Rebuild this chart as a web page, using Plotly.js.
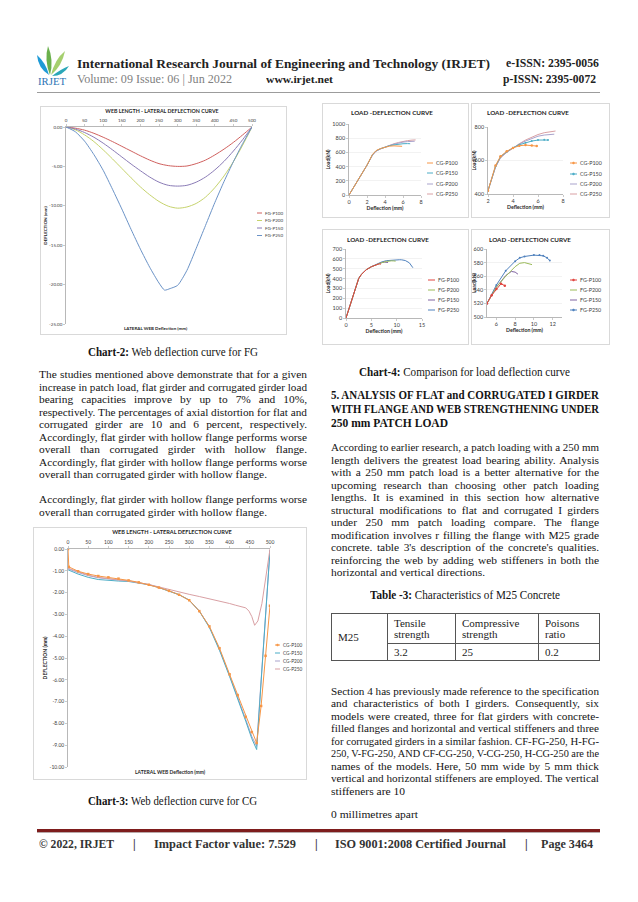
<!DOCTYPE html>
<html><head><meta charset="utf-8">
<script src="https://cdn.plot.ly/plotly-3.0.1.min.js"></script>
<style>
html,body{margin:0;padding:0;background:#fff;}
body{width:638px;height:902px;position:relative;overflow:hidden;font-family:"Liberation Serif",serif;color:#141414;}
.t{position:absolute;white-space:nowrap;transform-origin:0 50%;}
.frame{position:absolute;border:1px solid #d9d9d9;box-sizing:border-box;pointer-events:none;}
.plot{position:absolute;}
table.m25{position:absolute;left:331px;top:613px;width:268px;height:47px;border-collapse:collapse;font-family:"Liberation Serif",serif;font-size:11px;color:#1c1c1c;table-layout:fixed;}
table.m25 td{border:1px solid #555;padding:0 0 0 6px;line-height:10.5px;vertical-align:middle;}
</style>
</head><body>
<svg style="position:absolute;left:35px;top:44px" width="36" height="44" viewBox="0 0 36 44">
  <path d="M14 31 Q3 24 2 11 Q11 19 14 31Z" fill="#1e9ad6"/>
  <path d="M15 31 Q9 16 13 2 Q19 16 15 31Z" fill="#6ab04c"/>
  <path d="M16 31 Q20 15 30 7 Q27 22 16 31Z" fill="#a5cf6e"/>
  <path d="M17 32 Q26 25 34 22 Q28 32 17 32Z" fill="#2aa7b8"/>
  <text x="3" y="41" font-family="Liberation Serif" font-size="9.5" fill="#2a74b5" textLength="28" lengthAdjust="spacingAndGlyphs">IRJET</text>
</svg>
<div style="position:absolute;left:37px;top:92px;width:563px;height:1px;background:#9c9c9c"></div>
<div style="position:absolute;left:37px;top:829px;width:563px;height:3px;background:#7e1d1d"></div>
<div style="position:absolute;left:37px;top:832px;width:563px;height:1px;background:#b9a9a9"></div>

<table class="m25">
  <colgroup><col style="width:56px"><col style="width:68px"><col style="width:83px"><col style="width:61px"></colgroup>
  <tr style="height:30px"><td rowspan="2">M25</td><td>Tensile<br>strength</td><td>Compressive<br>strength</td><td>Poisons<br>ratio</td></tr>
  <tr style="height:17px"><td>3.2</td><td>25</td><td>0.2</td></tr>
</table>

<script>
// ================= DATA =================
// Chart-2: web deflection for flat girder (FG)
const webX = [0,25,50,75,100,125,150,175,200,225,250,275,300,325,350,375,400,425,450,475,500];
const fgP100Web = [0,-0.15,-0.4,-0.8,-1.3,-1.85,-2.45,-3.05,-3.65,-4.2,-4.65,-4.9,-5.0,-4.95,-4.65,-4.2,-3.55,-2.8,-1.95,-1.0,0];
const fgP200Web = [0,-0.35,-1.0,-1.85,-2.9,-4.05,-5.25,-6.45,-7.6,-8.6,-9.45,-10.05,-10.3,-10.15,-9.7,-8.9,-7.7,-6.2,-4.4,-2.3,0];
const fgP150Web = [0,-0.25,-0.7,-1.3,-2.05,-2.9,-3.8,-4.7,-5.55,-6.35,-7.0,-7.4,-7.5,-7.4,-7.0,-6.35,-5.45,-4.35,-3.05,-1.6,0];
const webXP250 = [0,25,50,75,100,125,150,175,200,225,250,265,280,300,325,350,375,400,425,450,475,500];
const fgP250Web = [0,-0.6,-1.8,-3.5,-5.5,-7.9,-10.4,-13.0,-15.5,-17.8,-19.8,-20.7,-20.5,-20.1,-18.2,-15.4,-12.5,-9.6,-6.9,-4.4,-2.1,0];
const webXTicks = [0,50,100,150,200,250,300,350,400,450,500];
const fgYTicks = [0,-5,-10,-15,-20,-25];
const fgYTickText = ["0.00","-5.00","-10.00","-15.00","-20.00","-25.00"];

// Chart-3: web deflection for corrugated girder (CG)
const cgWebX = [0,2,25,50,75,100,125,150,175,200,225,250,275,300,325,350,375,400,420,440,455,467,478,489,500];
const cgP100Web = [0.00,-0.82,-1.02,-1.15,-1.24,-1.30,-1.36,-1.44,-1.53,-1.64,-1.77,-1.92,-2.10,-2.35,-2.85,-3.55,-4.55,-5.75,-6.70,-7.70,-8.40,-8.90,-7.20,-4.90,-2.60];
const cgP150Web = [-0.95,-0.97,-1.15,-1.30,-1.40,-1.45,-1.47,-1.49,-1.55,-1.64,-1.77,-1.92,-2.10,-2.35,-2.85,-3.60,-4.65,-5.85,-6.85,-7.90,-8.70,-9.20,-6.10,-3.05,-0.05];
const cgP200Web = [-0.90,-0.92,-1.08,-1.22,-1.32,-1.38,-1.42,-1.46,-1.53,-1.63,-1.76,-1.91,-2.09,-2.34,-2.84,-3.57,-4.60,-5.80,-6.78,-7.82,-8.60,-9.05,-6.00,-3.00,-0.05];
const cgWebXP250 = [0,25,50,75,100,125,150,175,200,225,250,275,300,325,350,375,400,415,430,440,448,455,462,470,480,490,500];
const cgP250Web = [-0.88,-1.05,-1.2,-1.3,-1.37,-1.42,-1.47,-1.54,-1.63,-1.74,-1.86,-1.98,-2.08,-2.18,-2.28,-2.38,-2.5,-2.58,-2.65,-2.7,-2.85,-3.1,-3.5,-3.3,-2.5,-1.3,0.0];
const cgYTicks = [0,-1,-2,-3,-4,-5,-6,-7,-8,-9,-10];
const cgYTickText = ["0.00","-1.00","-2.00","-3.00","-4.00","-5.00","-6.00","-7.00","-8.00","-9.00","-10.00"];

// Chart-4: load-deflection curves, corrugated girder
const cgDefl100 = [0,1,2,2.6,3,3.5,4,4.5,5,5.5,5.9];
const cgLoad100 = [0,205,420,570,625,655,675,688,692,689,686];
const cgDefl150 = [0,1,2,2.6,3,3.5,4,4.5,5,5.5,6,6.5,6.8];
const cgLoad150 = [0,205,420,565,622,652,676,694,706,716,722,724,722];
const cgDefl200 = [0,1,2,2.6,3,3.5,4,4.5,5,5.5,6,6.5,7,7.3];
const cgLoad200 = [0,205,420,560,618,650,676,698,716,732,745,752,756,757];
const cgDefl250 = [0,1,2,2.6,3,3.5,4,4.5,5,5.5,6,6.5,7,7.4];
const cgLoad250 = [0,205,420,560,616,648,675,700,722,740,755,766,773,776];
// Chart-4: load-deflection curves, flat girder
const fgDefl100 = [0,1,2,2.5,3,4,5,5.5,6,6.5,6.9];
const fgLoad100 = [0,170,330,400,440,490,520,532,541,549,546];
const fgDefl200 = [0,1,2,2.5,3,4,5,6,7,8,8.5,9,9.4,9.8];
const fgLoad200 = [0,170,330,400,440,490,520,544,560,574,579,580,579,577];
const fgDefl150 = [0,1,2,2.5,3,4,5,6,7,7.6,8,8.3];
const fgLoad150 = [0,170,330,400,440,490,520,544,561,567,566,563];
const fgDefl250 = [0,1,2,2.5,3,4,5,6,7,8,9,10,10.6,11,11.4,11.7,12.5,13.2];
const fgLoad250 = [0,170,330,400,440,490,520,547,568,582,588,591,591,590,587,583,560,510];
const fgDefl250Zoom = [5,6,7,8,8.5,9,10,10.6,11,11.4,11.7];
const fgLoad250Zoom = [520,547,568,582,587,589,591,591,590,587,583];

// ================= COLOURS =================
const C = {
  fg100:'#d0605e', fg200:'#c6d36c', fg150:'#8a7bb6', fg250:'#6b93c7',
  cg100:'#f79646', cg150:'#4bacc6', cg200:'#a9a3cc', cg250:'#d9a0a4',
  r:'#e0443f', g:'#9bbb59', p:'#8064a2', b:'#4f81bd'
};
const FONT = 'Lato, "Liberation Sans", sans-serif';

// ================= TEXT HELPERS =================
function place(x, y, w, html, mode, fs, extra){
  const lh = Math.round(fs*1.25);
  const d = document.createElement('div');
  d.className = 't';
  d.style.left = x+'px'; d.style.top = (y - lh/2)+'px';
  d.style.fontSize = fs+'px'; d.style.lineHeight = lh+'px'; d.style.height = lh+'px';
  if (extra) Object.assign(d.style, extra);
  d.innerHTML = '<span>'+html+'</span>';
  d.dataset.w = w; d.dataset.m = mode;
  document.body.appendChild(d);
}
function center(cx, y, w, html, fs, extra){ place(cx - w/2, y, w, html, 'f', fs, extra); }
function fitAll(){
  document.querySelectorAll('.t').forEach(d=>{
    const W = +d.dataset.w, m = d.dataset.m;
    d.style.transform=''; d.style.whiteSpace='nowrap'; d.style.width='auto';
    d.style.textAlign='left'; d.style.textAlignLast='auto';
    const nat = d.firstChild.getBoundingClientRect().width;
    if (m==='j' && nat <= W){
      d.style.whiteSpace='normal'; d.style.width=W+'px';
      d.style.textAlign='justify'; d.style.textAlignLast='justify';
    } else if (m==='l' && nat <= W){
      /* keep natural */
    } else {
      d.style.width = nat+'px';
      d.style.transform = 'scaleX('+(W/nat)+')';
    }
  });
}

// header
place(77, 63, 413, 'International Research Journal of Engineering and Technology (IRJET)', 'f', 13.5, {fontWeight:'bold', color:'#222'});
place(506, 63, 93, 'e-ISSN: 2395-0056', 'f', 11.5, {fontWeight:'bold', color:'#222'});
place(77, 79, 155, 'Volume: 09 Issue: 06 | Jun 2022', 'f', 11.5, {color:'#808080'});
place(266, 79, 67, 'www.irjet.net', 'f', 11, {fontWeight:'bold', color:'#222'});
place(503, 79, 93, 'p-ISSN: 2395-0072', 'f', 11.5, {fontWeight:'bold', color:'#222'});

// footer
const ff = {fontWeight:'bold', color:'#333'};
place(39, 844, 75, '© 2022, IRJET', 'f', 12, ff);
place(133, 844, 3, '|', 'l', 12, ff);
place(154, 844, 142, 'Impact Factor value: 7.529', 'f', 12, ff);
place(315, 844, 3, '|', 'l', 12, ff);
place(335, 844, 171, 'ISO 9001:2008 Certified Journal', 'f', 12, ff);
place(525, 844, 3, '|', 'l', 12, ff);
place(541, 844, 52, 'Page 3464', 'f', 12, ff);

// left column
const BFS = 11.4;
center(173, 352, 170, '<b>Chart-2:</b> Web deflection curve for FG', 11.5);
const leftPara = [
 'The studies mentioned above demonstrate that for a given',
 'increase in patch load, flat girder and corrugated girder load',
 'bearing capacities improve by up to 7% and 10%,',
 'respectively. The percentages of axial distortion for flat and',
 'corrugated girder are 10 and 6 percent, respectively.',
 'Accordingly, flat girder with hollow flange performs worse',
 'overall than corrugated girder with hollow flange.',
 'Accordingly, flat girder with hollow flange performs worse',
];
leftPara.forEach((s,i)=>place(39, 374.3 + i*12.5, 268, s, 'j', BFS));
place(39, 474.3, 228, 'overall than corrugated girder with hollow flange.', 'f', BFS);
place(39, 499, 268, 'Accordingly, flat girder with hollow flange performs worse', 'j', BFS);
place(39, 511.5, 228, 'overall than corrugated girder with hollow flange.', 'f', BFS);
center(172.5, 801, 169, '<b>Chart-3:</b> Web deflection curve for CG', 11.5);

// right column
center(464.5, 372, 211, '<b>Chart-4:</b> Comparison for load deflection curve', 11.5);
place(331, 395, 268, '5. ANALYSIS OF FLAT and CORRUGATED I GIRDER', 'j', 13, {fontWeight:'bold'});
place(331, 409, 268, 'WITH FLANGE AND WEB STRENGTHENING UNDER', 'j', 13, {fontWeight:'bold'});
place(331, 422.7, 117, '250 mm PATCH LOAD', 'f', 13, {fontWeight:'bold'});
const rightPara = [
 'According to earlier research, a patch loading with a 250 mm',
 'length delivers the greatest load bearing ability. Analysis',
 'with a 250 mm patch load is a better alternative for the',
 'upcoming research than choosing other patch loading',
 'lengths. It is examined in this section how alternative',
 'structural modifications to flat and corrugated I girders',
 'under 250 mm patch loading compare. The flange',
 'modification involves r filling the flange with M25 grade',
 'concrete. table 3\'s description of the concrete\'s qualities.',
 'reinforcing the web by adding web stiffeners in both the',
];
rightPara.forEach((s,i)=>place(331, 447.3 + i*12.5, 268, s, 'j', BFS));
place(331, 572.3, 154, 'horizontal and vertical directions.', 'f', BFS);
center(465, 595, 190, '<b>Table -3:</b> Characteristics of M25 Concrete', 11.5);
const sec4 = [
 'Section 4 has previously made reference to the specification',
 'and characteristics of both I girders. Consequently, six',
 'models were created, three for flat girders with concrete-',
 'filled flanges and horizontal and vertical stiffeners and three',
 'for corrugated girders in a similar fashion. CF-FG-250, H-FG-',
 '250, V-FG-250, AND CF-CG-250, V-CG-250, H-CG-250 are the',
 'names of the models. Here, 50 mm wide by 5 mm thick',
 'vertical and horizontal stiffeners are employed. The vertical',
];
sec4.forEach((s,i)=>place(331, 690.7 + i*12.5, 268, s, 'j', BFS));
place(331, 790.7, 74, 'stiffeners are 10', 'f', BFS);
place(331, 814, 87, '0 millimetres apart', 'f', BFS);

fitAll();
if (document.fonts && document.fonts.ready) document.fonts.ready.then(fitAll);

// ================= CHART HELPER =================
function chart(id, box, m, traces, o){
  const extraR = o.extraR || 0;
  const div = document.createElement('div');
  div.id = id; div.className = 'plot';
  Object.assign(div.style, {left:box.l+'px', top:box.t+'px', width:(box.w+extraR)+'px', height:box.h+'px'});
  document.body.appendChild(div);
  const fr = document.createElement('div'); fr.className='frame';
  Object.assign(fr.style, {left:box.l+'px', top:box.t+'px', width:(box.w + (o.frameExtra||0))+'px', height:box.h+'px'});
  document.body.appendChild(fr);
  const pw = box.w - m.l - m.r, ph = box.h - m.t - m.b;
  const px = X => (X - box.l - m.l)/pw;
  const py = Y => 1 - (Y - box.t - m.t)/ph;
  const shapes = [], annotations = [];
  const lg = o.legend;
  lg.items.forEach((it,i)=>{
    const y = lg.ys[i];
    shapes.push({type:'line', xref:'paper', yref:'paper', x0:px(lg.sx0), x1:px(lg.sx1), y0:py(y), y1:py(y), line:{color:it.color, width:1}});
    if (it.marker){
      const mx = (lg.sx0+lg.sx1)/2;
      shapes.push({type:'circle', xref:'paper', yref:'paper', x0:px(mx-1), x1:px(mx+1), y0:py(y+1), y1:py(y-1), fillcolor:it.color, line:{color:it.color, width:0.5}});
    }
    annotations.push({xref:'paper', yref:'paper', x:px(lg.tx), y:py(y), xanchor:'left', yanchor:'middle', showarrow:false, text:it.name, font:{family:FONT, size:lg.size, color:'#404040'}});
  });
  (o.annos||[]).forEach(a=>{
    annotations.push({xref:'paper', yref:'paper', x:px(a.x), y:py(a.y), xanchor:'center', yanchor:'middle', showarrow:false, text:a.text, textangle:a.angle||0, font:{family:FONT, size:a.size, color:'#262626'}});
  });
  const W = box.w + extraR;
  const layout = {
    width:W, height:box.h, margin:{l:m.l, r:m.r+extraR, t:m.t, b:m.b, pad:0},
    paper_bgcolor:'rgba(0,0,0,0)', plot_bgcolor:'rgba(0,0,0,0)', showlegend:false,
    title:{text:o.title.text, x:(o.title.x-box.l)/W, xref:'container', xanchor:'center',
           y:1-(o.title.y-box.t)/box.h, yref:'container', yanchor:'middle',
           font:{family:FONT, size:o.title.size, color:'#262626'}},
    xaxis:o.xaxis, yaxis:o.yaxis, shapes, annotations
  };
  Plotly.newPlot(div, traces, layout, {staticPlot:true, displayModeBar:false});
}
function ax(extra, fs){
  return Object.assign({showline:true, linecolor:'#a6a6a6', linewidth:0.8, ticks:'outside', ticklen:2, tickwidth:0.6, tickcolor:'#a6a6a6',
    tickfont:{family:FONT, size:fs, color:'#404040'}, zeroline:false, showgrid:false, automargin:false, fixedrange:true}, extra);
}
function ln(x, y, name, color, w, extra){
  return Object.assign({type:'scatter', mode:'lines', x, y, name, line:{color, width:w||1}, hoverinfo:'skip'}, extra||{});
}

// ---------- Chart-2 ----------
chart('c2', {l:40, t:106, w:247, h:229}, {l:26, r:35, t:21, b:11}, [
  ln(webX, fgP100Web, 'FG-P100', C.fg100, 1, {line:{color:C.fg100, width:1, shape:'spline', smoothing:0.8}}),
  ln(webX, fgP200Web, 'FG-P200', C.fg200, 1, {line:{color:C.fg200, width:1, shape:'spline', smoothing:0.8}}),
  ln(webX, fgP150Web, 'FG-P150', C.fg150, 1, {line:{color:C.fg150, width:1, shape:'spline', smoothing:0.8}}),
  ln(webXP250, fgP250Web, 'FG-P250', C.fg250, 1, {line:{color:C.fg250, width:1, shape:'spline', smoothing:0.6}}),
], {
  title:{text:'<b>WEB LENGTH - LATERAL DEFLECTION CURVE</b>', x:162, y:111, size:5.3},
  xaxis:ax({side:'top', range:[0,500], tickvals:webXTicks}, 4.5),
  yaxis:ax({range:[-25,0], tickvals:fgYTicks, ticktext:fgYTickText, title:{text:'<b>DEFLECTION (mm)</b>', font:{family:FONT, size:4.5, color:'#262626'}, standoff:1}}, 4.5),
  annos:[{x:156, y:328, text:'<b>LATERAL WEB Deflection (mm)</b>', size:4.5}],
  legend:{sx0:257, sx1:262, tx:263, ys:[213,220.5,228,235.5], size:4.5, items:[
    {name:'FG-P100', color:C.fg100},{name:'FG-P200', color:C.fg200},{name:'FG-P150', color:C.fg150},{name:'FG-P250', color:C.fg250}]}
});

// ---------- Chart-3 ----------
chart('c3', {l:33, t:527, w:270, h:253}, {l:35, r:33, t:22, b:13}, [
  ln(cgWebX, cgP200Web, 'CG-P200', C.cg200, 1),
  ln(cgWebX, cgP150Web, 'CG-P150', C.cg150, 1),
  ln(cgWebXP250, cgP250Web, 'CG-P250', C.cg250, 1),
  ln(cgWebX, cgP100Web, 'CG-P100', C.cg100, 1, {mode:'lines+markers', marker:{size:2.5, color:C.cg100, symbol:'square'}}),
], {
  extraR: 12, frameExtra: 4,
  title:{text:'<b>WEB LENGTH - LATERAL DEFLECTION CURVE</b>', x:172, y:532, size:5.6},
  xaxis:ax({side:'top', range:[0,500], tickvals:webXTicks}, 5),
  yaxis:ax({range:[-10,0], tickvals:cgYTicks, ticktext:cgYTickText, title:{text:'<b>DEFLECTION (mm)</b>', font:{family:FONT, size:5, color:'#262626'}, standoff:1}}, 5),
  annos:[{x:170, y:772, text:'<b>LATERAL WEB Deflection (mm)</b>', size:5}],
  legend:{sx0:275, sx1:280, tx:281, ys:[645,653,661,669], size:4.7, items:[
    {name:'CG-P100', color:C.cg100, marker:true},{name:'CG-P150', color:C.cg150},{name:'CG-P200', color:C.cg200},{name:'CG-P250', color:C.cg250}]}
});

// ---------- Chart-4 panels ----------
const yT = (t)=>({text:'<b>'+t+'</b>', font:{family:FONT, size:5, color:'#262626'}, standoff:1});
const grid = {showgrid:true, gridcolor:'#e6e6e6', gridwidth:0.5};
const cgItems = [{name:'CG-P100', color:C.cg100},{name:'CG-P150', color:C.cg150},{name:'CG-P200', color:C.cg200},{name:'CG-P250', color:C.cg250}];
const cgTraces = (mk)=>[
  ln(cgDefl250, cgLoad250, 'CG-P250', C.cg250, 1),
  ln(cgDefl200, cgLoad200, 'CG-P200', C.cg200, 1),
  ln(cgDefl150, cgLoad150, 'CG-P150', C.cg150, 1, mk?{mode:'lines+markers', marker:{size:2, color:C.cg150}}:{}),
  ln(cgDefl100, cgLoad100, 'CG-P100', C.cg100, 1, mk?{mode:'lines+markers', marker:{size:2.5, color:C.cg100}}:{}),
];
chart('p1', {l:322, t:103, w:147, h:115}, {l:27, r:48, t:21, b:23}, cgTraces(false), {
  title:{text:'<b>LOAD -DEFLECTION CURVE</b>', x:392, y:113, size:6.3},
  xaxis:ax({range:[0,8], dtick:2, title:{text:'<b>Deflection (mm)</b>', font:{family:FONT, size:5.2, color:'#262626'}, standoff:1}}, 5.5),
  yaxis:ax(Object.assign({range:[0,1000], dtick:200, title:yT('Load(kN)')}, grid), 5.5),
  legend:{sx0:427, sx1:433, tx:434, ys:[163,173,184,194], size:5.3, items:cgItems}
});
chart('p2', {l:471, t:103, w:139, h:115}, {l:17, r:47, t:24, b:24}, cgTraces(true), {
  title:{text:'<b>LOAD -DEFLECTION CURVE</b>', x:528, y:113, size:6.3},
  xaxis:ax({range:[2,8], dtick:2, title:{text:'<b>Deflection (mm)</b>', font:{family:FONT, size:5.2, color:'#262626'}, standoff:1}}, 5.5),
  yaxis:ax(Object.assign({range:[400,800], dtick:200, title:yT('Load(kN)')}, grid), 5.5),
  legend:{sx0:570, sx1:577, tx:578, ys:[163,174,184,194], size:5.3, items:cgItems.map((d,i)=>Object.assign({}, d, i<2?{marker:true}:{}))}
});
const fgItems = [{name:'FG-P100', color:C.r},{name:'FG-P200', color:C.g},{name:'FG-P150', color:C.p},{name:'FG-P250', color:C.b}];
chart('p3', {l:322, t:229, w:147, h:116}, {l:24, r:47, t:20, b:27}, [
  ln(fgDefl250, fgLoad250, 'FG-P250', C.b, 1),
  ln(fgDefl150, fgLoad150, 'FG-P150', C.p, 1),
  ln(fgDefl200, fgLoad200, 'FG-P200', C.g, 1),
  ln(fgDefl100, fgLoad100, 'FG-P100', C.r, 1),
], {
  title:{text:'<b>LOAD -DEFLECTION CURVE</b>', x:388, y:240, size:6.3},
  xaxis:ax({range:[0,15], dtick:5, title:{text:'<b>Deflection (mm)</b>', font:{family:FONT, size:5.2, color:'#262626'}, standoff:1}}, 5.5),
  yaxis:ax(Object.assign({range:[0,700], dtick:100, title:yT('Load(kN)')}, grid), 5.5),
  legend:{sx0:428, sx1:435, tx:436, ys:[280,290,300,310], size:5.3, items:fgItems}
});
chart('p4', {l:471, t:229, w:139, h:116}, {l:16, r:48, t:20, b:28}, [
  ln(fgDefl250Zoom, fgLoad250Zoom, 'FG-P250', C.b, 1, {mode:'lines+markers', marker:{size:2, color:C.b}}),
  ln(fgDefl150, fgLoad150, 'FG-P150', C.p, 1),
  ln(fgDefl200, fgLoad200, 'FG-P200', C.g, 1),
  ln(fgDefl100, fgLoad100, 'FG-P100', C.r, 1, {mode:'lines+markers', marker:{size:2.5, color:C.r}}),
], {
  title:{text:'<b>LOAD -DEFLECTION CURVE</b>', x:530, y:240, size:6.3},
  xaxis:ax({range:[5,13], dtick:2, title:{text:'<b>Deflection (mm)</b>', font:{family:FONT, size:5.2, color:'#262626'}, standoff:1}}, 5.5),
  yaxis:ax(Object.assign({range:[500,600], dtick:20, title:yT('Load(kN)')}, grid), 5.5),
  legend:{sx0:570, sx1:577, tx:578, ys:[280,290,300,310], size:5.3, items:fgItems.map((d,i)=>Object.assign({}, d, (i===0||i===3)?{marker:true}:{}))}
});
</script>
</body></html>
